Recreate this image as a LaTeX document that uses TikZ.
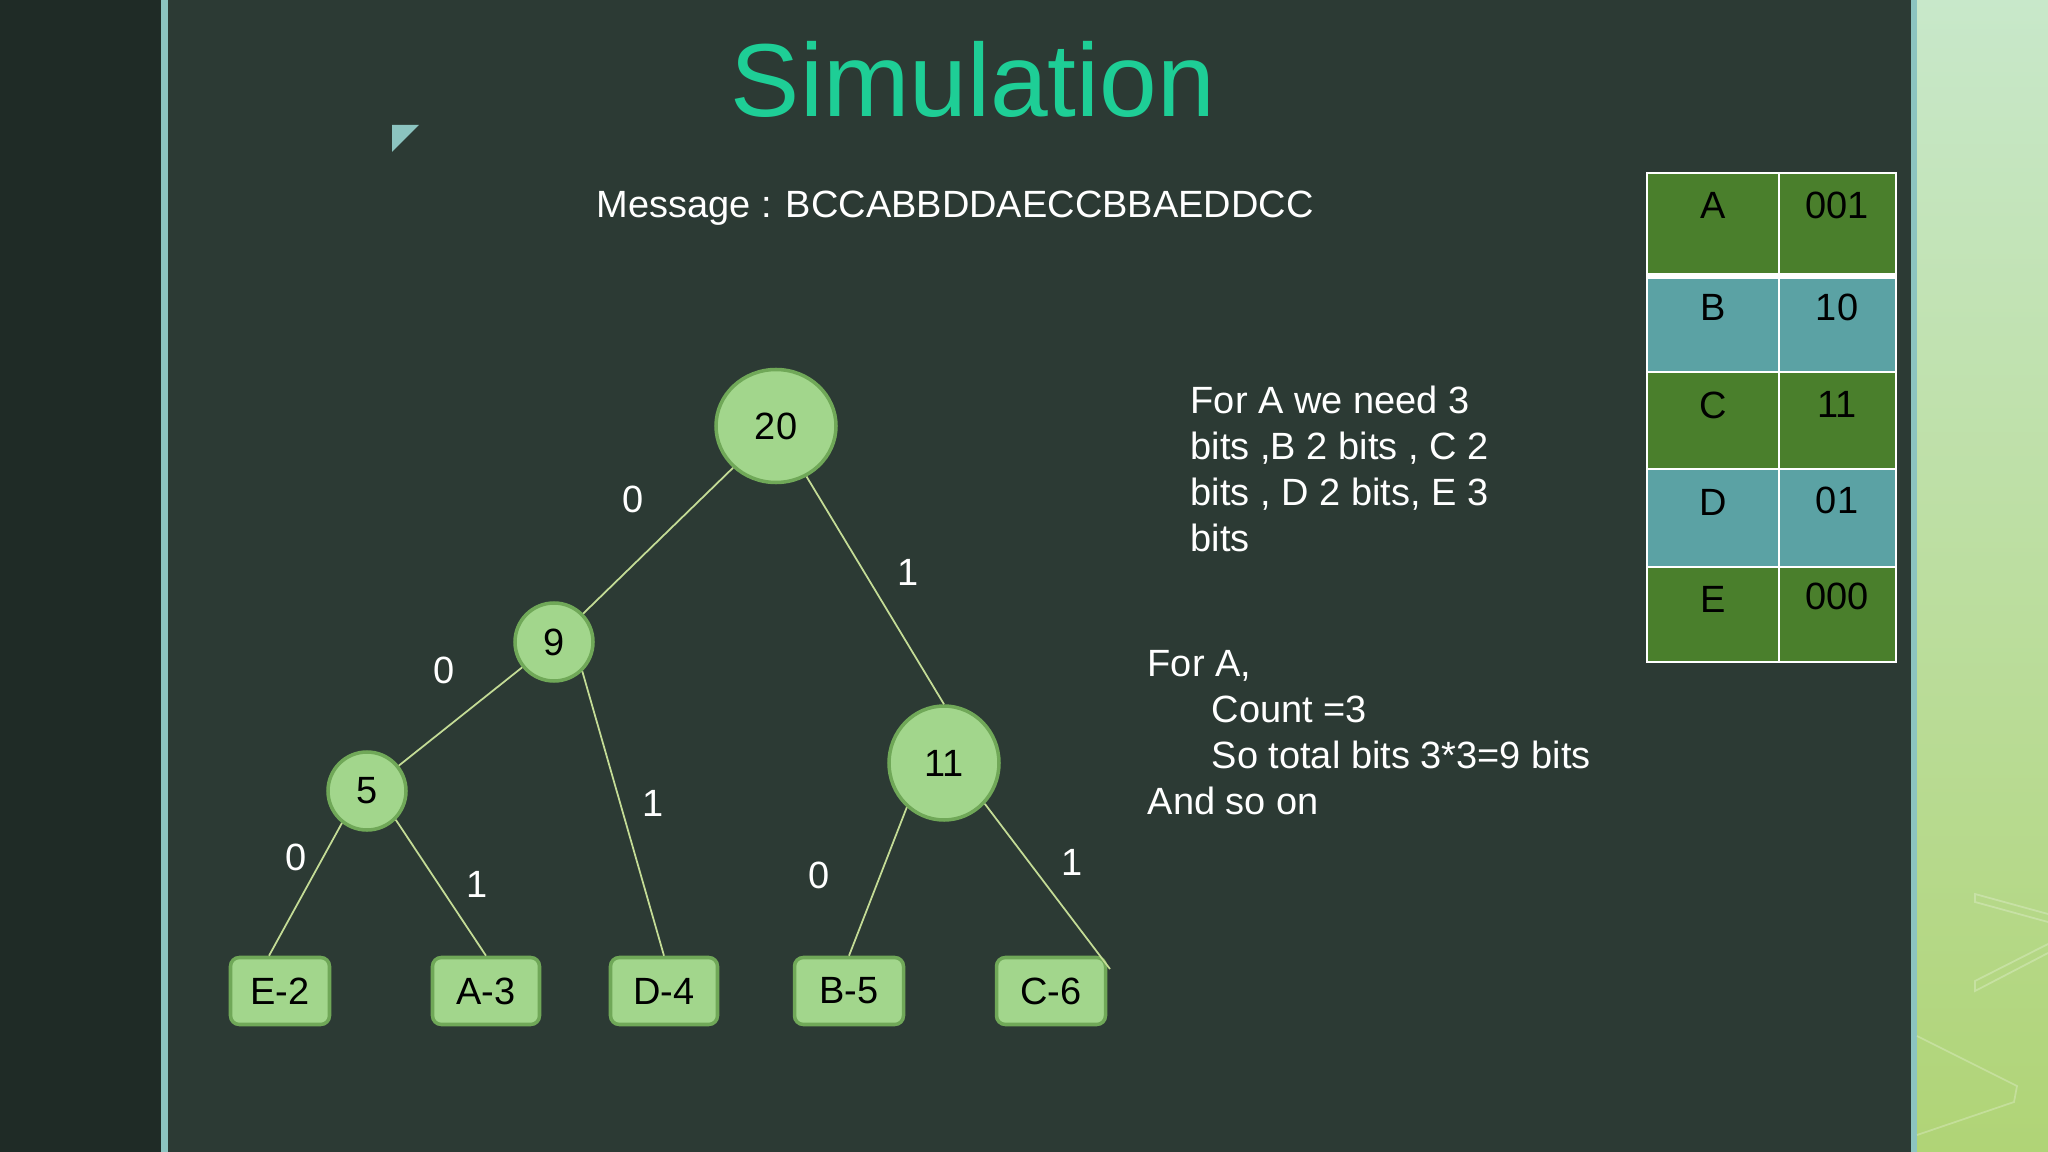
\documentclass[tikz,border=0pt]{standalone}
\usepackage{fontspec}
\setmainfont{Liberation Sans}
\usetikzlibrary{shapes.geometric,calc}
\definecolor{bgmain}{RGB}{44,58,52}
\definecolor{bgleft}{RGB}{31,43,38}
\definecolor{tealline}{RGB}{140,196,192}
\definecolor{titlegreen}{RGB}{30,206,150}
\definecolor{nodefill}{RGB}{162,214,140}
\definecolor{nodeborder}{RGB}{112,168,88}
\definecolor{edgecol}{RGB}{196,220,150}
\definecolor{cellgreen}{RGB}{74,127,44}
\definecolor{cellteal}{RGB}{91,162,164}
\definecolor{greentop}{RGB}{200,232,202}
\definecolor{greenbot}{RGB}{176,212,118}
\begin{document}
\begin{tikzpicture}[x=0.01cm,y=-0.01cm,
  bodyfont/.style={font=\fontsize{10.8}{13}\selectfont},
  txt/.style={bodyfont,text=white,inner sep=0pt,anchor=base west},
  elabel/.style={bodyfont,text=white,inner sep=0pt},
  treenode/.style={ellipse,draw=nodeborder,line width=1pt,fill=nodefill,inner sep=0pt,bodyfont,text=black},
  leaf/.style={rectangle,rounded corners=2.5pt,draw=nodeborder,line width=1pt,fill=nodefill,inner sep=0pt,minimum height=67*0.01cm,bodyfont,text=black},
  edge/.style={draw=edgecol,line width=0.5pt},
  cellg/.style={fill=cellgreen,draw=white,line width=0.7pt},
  cellt/.style={fill=cellteal,draw=white,line width=0.7pt},
  celltxt/.style={bodyfont,text=black,inner sep=0pt,anchor=base},
  chev/.style={draw=white,opacity=0.25,line width=0.5pt}
]
\useasboundingbox (0,0) rectangle (2048,1152);
% backgrounds
\fill[bgmain] (0,0) rectangle (2048,1152);
\fill[bgleft] (0,0) rectangle (161,1152);
\fill[tealline] (161,0) rectangle (168,1152);
\shade[top color=greentop,bottom color=greenbot] (1916,0) rectangle (2048,1152);
\fill[tealline] (1911,0) rectangle (1917,1152);
\draw[chev] (2048,914) -- (1975,894) -- (1975,902) -- (2048,922);
\draw[chev] (2048,944) -- (1975,981) -- (1975,991) -- (2048,953);
\draw[chev] (1917,1036) -- (2017,1086) -- (2014,1102) -- (1917,1135);
% decorative triangle
\fill[tealline] (392,125) -- (419,125) -- (392,152) -- cycle;
% title and message
\node[font=\fontsize{29.5}{34}\selectfont,text=titlegreen,inner sep=0pt,anchor=base] (title) at (973,117) {Simulation};
\node[txt] (msg) at (596,218) {Message : BCCABBDDAECCBBAEDDCC};
% tree nodes
\node[treenode,minimum width=120*0.01cm,minimum height=113*0.01cm] (n20) at (776,426) {20};
\node[treenode,minimum width=78*0.01cm,minimum height=78*0.01cm] (n9) at (554,642) {9};
\node[treenode,minimum width=78*0.01cm,minimum height=78*0.01cm] (n5) at (367,791) {5};
\node[treenode,minimum width=110*0.01cm,minimum height=114*0.01cm] (n11) at (944,763) {11};
\node[leaf,minimum width=99*0.01cm] (E2) at (280,991) {E-2};
\node[leaf,minimum width=107*0.01cm] (A3) at (486,991) {A-3};
\node[leaf,minimum width=107*0.01cm] (D4) at (664,991) {D-4};
\node[leaf,minimum width=109*0.01cm] (B5) at (849,991) {B-5};
\node[leaf,minimum width=109*0.01cm] (C6) at (1051,991) {C-6};
\coordinate (c6end) at (1110,969);
% connectors
\draw[edge] (n20) -- (n9);
\draw[edge] (n20) -- (n11.north);
\draw[edge] (n9) -- (n5);
\draw[edge] (n9.-46) -- (D4.north);
\draw[edge] (n5.-128) -- ($(E2.north)+(-11,0)$);
\draw[edge] (n5.-45) -- (A3.north);
\draw[edge] (n11.-130) -- (B5.north);
\draw[edge] (n11.-45) -- (c6end);
% edge labels
\node[elabel] (l1) at (633,499) {0};
\node[elabel] (l2) at (908,572) {1};
\node[elabel] (l3) at (444,670) {0};
\node[elabel] (l4) at (653,803) {1};
\node[elabel] (l5) at (296,857) {0};
\node[elabel] (l6) at (477,884) {1};
\node[elabel] (l7) at (819,875) {0};
\node[elabel] (l8) at (1072,862) {1};
% explanation text
\node[txt] (t1) at (1190,414) {For A we need 3};
\node[txt] (t2) at (1190,460) {bits ,B 2 bits , C 2};
\node[txt] (t3) at (1190,506) {bits , D 2 bits, E 3};
\node[txt] (t4) at (1190,552) {bits};
\node[txt] (t5) at (1147,676) {For A,};
\node[txt] (t6) at (1211,722) {Count =3};
\node[txt] (t7) at (1211,768) {So total bits 3*3=9 bits};
\node[txt] (t8) at (1147,814) {And so on};
% table
\draw[cellg] (1647,173) rectangle (1779,276);
\draw[cellg] (1779,173) rectangle (1896,276);
\draw[cellt] (1647,276) rectangle (1779,372);
\draw[cellt] (1779,276) rectangle (1896,372);
\draw[cellg] (1647,372) rectangle (1779,469);
\draw[cellg] (1779,372) rectangle (1896,469);
\draw[cellt] (1647,469) rectangle (1779,567);
\draw[cellt] (1779,469) rectangle (1896,567);
\draw[cellg] (1647,567) rectangle (1779,662);
\draw[cellg] (1779,567) rectangle (1896,662);
\draw[white,line width=1.8pt] (1647,276) -- (1896,276);
\node[celltxt] (ka) at (1713,219) {A};
\node[celltxt] (va) at (1837,219) {001};
\node[celltxt] (kb) at (1713,321) {B};
\node[celltxt] (vb) at (1837,321) {10};
\node[celltxt] (kc) at (1713,419) {C};
\node[celltxt] (vc) at (1837,418) {11};
\node[celltxt] (kd) at (1713,516) {D};
\node[celltxt] (vd) at (1837,514) {01};
\node[celltxt] (ke) at (1713,613) {E};
\node[celltxt] (ve) at (1837,610) {000};
\end{tikzpicture}
\end{document}
